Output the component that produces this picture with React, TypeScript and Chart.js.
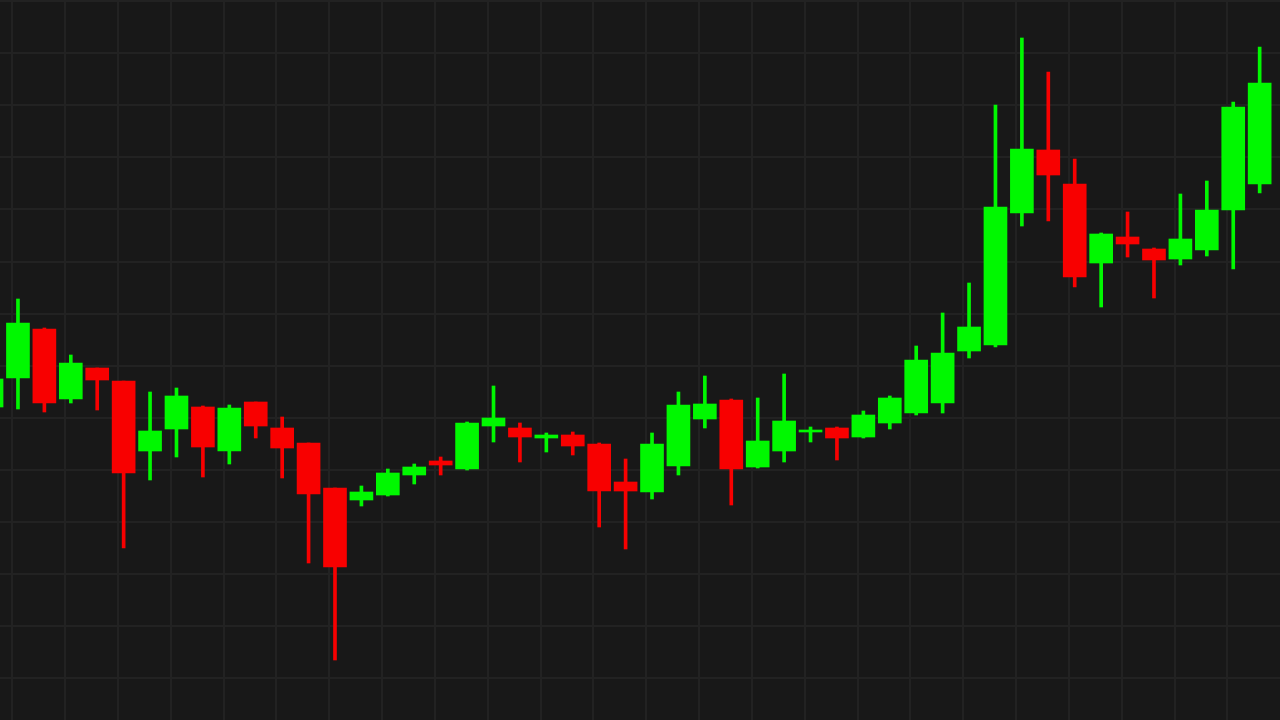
import React, { useEffect, useRef } from "react";
import { Chart, registerables } from "chart.js";

Chart.register(...registerables);

// Session index of each candle
const sessions = [
  0, 1, 2, 3, 4, 5, 6, 7, 8, 9, 10, 11, 12, 13, 14, 15, 16, 17, 18, 19, 20, 21, 22, 23, 24,
  25, 26, 27, 28, 29, 30, 31, 32, 33, 34, 35, 36, 37, 38, 39, 40, 41, 42, 43, 44, 45, 46, 47, 48,
];

const opens = [
  131.3, 134.2, 139.1, 132.1, 135.2, 133.9, 126.9, 129.1, 131.3, 126.9, 131.8, 129.2, 127.7, 123.2,
  122.0, 122.5, 124.5, 125.9, 125.1, 129.4, 129.2, 128.2, 128.5, 127.6, 123.8, 122.8, 125.4, 130.1,
  132.0, 125.3, 126.9, 128.8, 129.2, 128.3, 129.7, 130.7, 131.7, 136.9, 137.5, 150.7, 157.0, 153.6,
  145.7, 148.3, 147.1, 146.1, 147.0, 151.0, 153.6,
];

const highs = [
  134.6, 142.1, 139.2, 136.5, 135.2, 133.9, 132.8, 133.2, 131.4, 131.5, 131.8, 130.3, 127.7, 123.2,
  123.4, 125.1, 125.6, 126.3, 129.8, 133.4, 129.7, 128.7, 128.8, 127.7, 126.1, 128.7, 132.8, 134.4,
  132.1, 132.2, 134.6, 129.3, 129.3, 130.9, 132.4, 137.4, 140.7, 143.7, 161.5, 168.2, 164.8, 156.1,
  148.7, 150.8, 147.2, 152.6, 153.9, 161.8, 167.3,
];

const lows = [
  131.0, 131.1, 130.8, 131.7, 131.0, 117.2, 124.0, 126.3, 124.3, 125.6, 128.2, 124.2, 115.7, 106.0,
  121.4, 122.4, 123.6, 124.5, 125.0, 127.8, 125.8, 126.8, 126.5, 119.3, 117.1, 122.1, 124.5, 129.2,
  121.5, 125.2, 125.8, 127.8, 126.0, 128.2, 129.1, 130.5, 130.7, 136.2, 137.3, 149.4, 149.9, 143.3,
  141.3, 146.3, 142.2, 145.5, 146.4, 145.1, 152.7,
];

const closes = [
  134.1, 139.7, 131.7, 135.7, 134.0, 124.7, 128.9, 132.4, 127.3, 131.2, 129.4, 127.2, 122.6, 115.3,
  122.8, 124.7, 125.3, 125.5, 129.7, 130.2, 128.3, 128.5, 127.4, 122.9, 122.9, 127.6, 131.5, 131.6,
  125.1, 127.9, 129.9, 129.0, 128.2, 130.5, 132.2, 136.0, 136.7, 139.3, 151.3, 157.1, 154.5, 144.3,
  148.6, 147.6, 146.0, 148.1, 151.0, 161.3, 163.7,
];

// Visible window and grid tick positions
const xMin = 0.32;
const xMax = 48.77;
const yMin = 100;
const yMax = 172;
const xGridStart = 0.78;
const xGridStep = 2.0;
const xGridCount = 24;
const yGridTop = 171.9;
const yGridStep = 5.21;
const yGridCount = 14;

const UP = "#00f800";
const DOWN = "#f80000";
const BG = "#181818";
const GRID = "#222222";

export default function App() {
  const ref = useRef<HTMLCanvasElement | null>(null);

  useEffect(() => {
    if (!ref.current) return;
    const colors = sessions.map((_, i) => (closes[i] >= opens[i] ? UP : DOWN));
    const xGrid = Array.from({ length: xGridCount }, (_, k) => xGridStart + k * xGridStep);
    const yGrid = Array.from({ length: yGridCount }, (_, k) => yGridTop - k * yGridStep);

    const chart = new Chart(ref.current, {
      type: "bar",
      data: {
        datasets: [
          {
            label: "wick",
            data: sessions.map((s, i) => ({ x: s, y: [lows[i], highs[i]] })) as any,
            backgroundColor: colors,
            borderWidth: 0,
            barThickness: 3,
            grouped: false,
            order: 2,
          } as any,
          {
            label: "body",
            data: sessions.map((s, i) => ({ x: s, y: [opens[i], closes[i]] })) as any,
            backgroundColor: colors,
            borderWidth: 0,
            barThickness: 23,
            grouped: false,
            order: 1,
          } as any,
        ],
      },
      options: {
        animation: false,
        responsive: false,
        layout: { padding: 0 },
        plugins: {
          legend: { display: false },
          tooltip: { enabled: false },
          title: { display: false },
        },
        scales: {
          x: {
            type: "linear",
            offset: false,
            min: xMin,
            max: xMax,
            ticks: { display: false },
            border: { display: false },
            grid: { color: GRID, lineWidth: 2, drawTicks: false, offset: false },
            afterBuildTicks: (scale: any) => {
              scale.ticks = xGrid.map((v) => ({ value: v }));
            },
          },
          y: {
            type: "linear",
            min: yMin,
            max: yMax,
            ticks: { display: false },
            border: { display: false },
            grid: { color: GRID, lineWidth: 2, drawTicks: false },
            afterBuildTicks: (scale: any) => {
              scale.ticks = yGrid.map((v) => ({ value: v }));
            },
          },
        },
      },
    });
    return () => chart.destroy();
  }, []);

  return (
    <div
      style={{
        position: "fixed",
        left: 0,
        top: 0,
        width: 1280,
        height: 720,
        background: BG,
        overflow: "hidden",
      }}
    >
      <canvas ref={ref} width={1280} height={720} style={{ display: "block" }} />
    </div>
  );
}
